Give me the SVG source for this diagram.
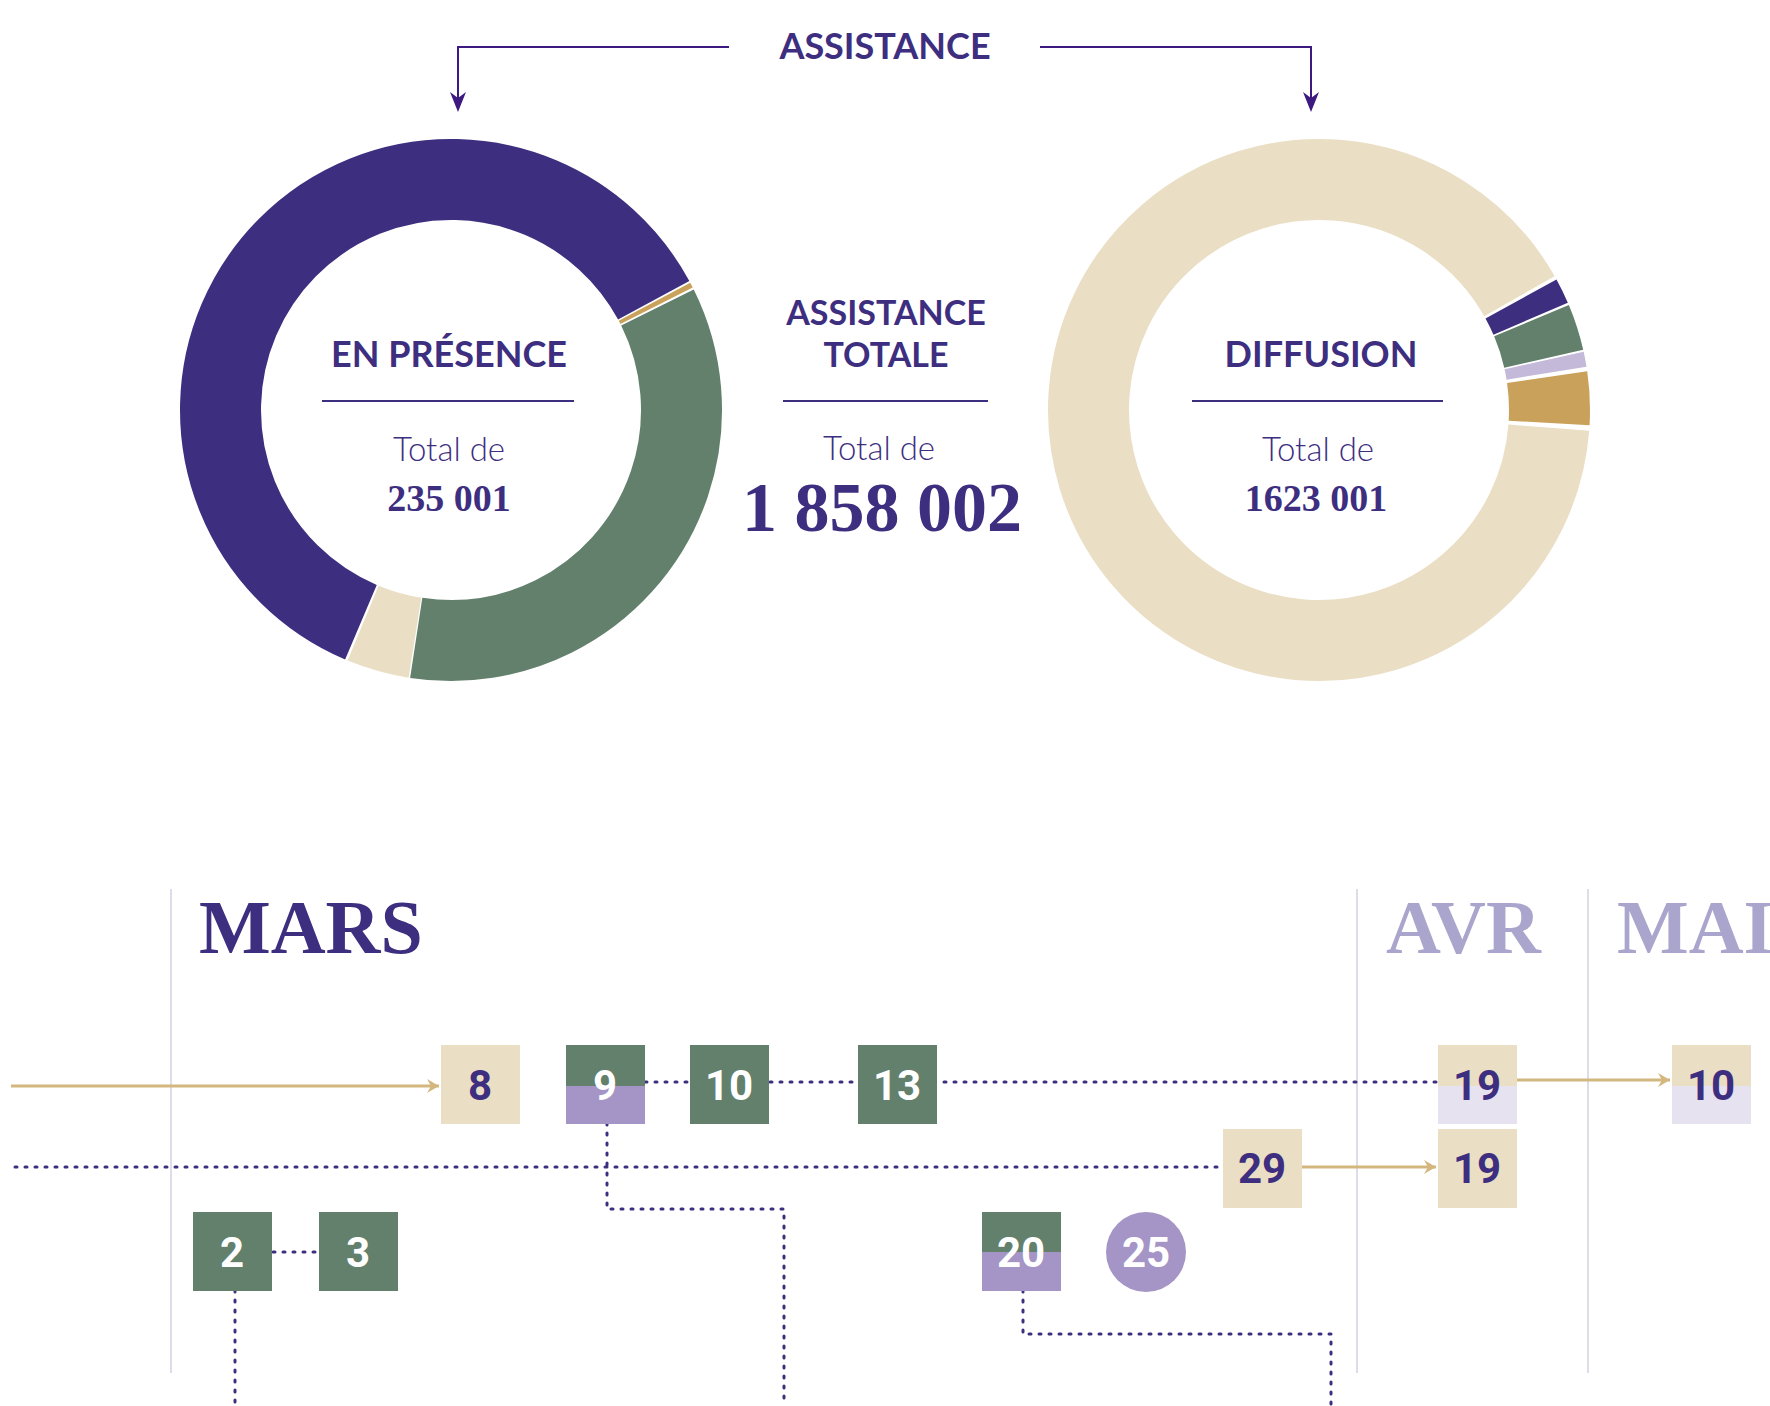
<svg xmlns="http://www.w3.org/2000/svg" width="1770" height="1406" viewBox="0 0 1770 1406">
<defs>
<style>
.h{font-family:Lato,"Open Sans",sans-serif;font-weight:700;fill:#3d2e7f;text-anchor:middle}
.t{font-family:Lato,"Open Sans",sans-serif;font-weight:300;fill:#3d2e7f;text-anchor:middle;font-size:33px}
.s{font-family:"Liberation Serif",serif;font-weight:700;fill:#3d2e7f;text-anchor:middle}
.n{font-family:Roboto,"Liberation Sans",sans-serif;font-weight:700;font-size:42px;text-anchor:middle}
.dot{fill:none;stroke:#3d2e7f;stroke-width:3;stroke-dasharray:2 8;stroke-linecap:round}
.gl{fill:none;stroke:#d4b77f;stroke-width:3}
.ring{fill:none;stroke-width:81}
.vl{stroke:#dcdcea;stroke-width:2}
</style>
<marker id="ga" markerWidth="14" markerHeight="14" refX="12" refY="7" orient="auto" markerUnits="userSpaceOnUse"><path d="M0,0 L12,7 L0,14 L4,7 Z" fill="#d4b77f"/></marker>
<marker id="pa" markerWidth="14" markerHeight="20" refX="7" refY="18" orient="auto" markerUnits="userSpaceOnUse"><path d="M0,0 L7,18 L14,0 L7,6 Z" fill="#3d1a7f" transform="rotate(-90 7 7) translate(0 0)"/></marker>
</defs>
<rect width="1770" height="1406" fill="#fff"/>
<g id="assistance">
<text class="h" x="885" y="59" font-size="36" fill="#3d1a7f">ASSISTANCE</text>
<path d="M729,47 H458 V100" fill="none" stroke="#3d1a7f" stroke-width="2"/>
<path d="M450,92 L458,112 L466,92 L458,98 Z" fill="#3d1a7f"/>
<path d="M1040,47 H1311 V100" fill="none" stroke="#3d1a7f" stroke-width="2"/>
<path d="M1303,92 L1311,112 L1319,92 L1311,98 Z" fill="#3d1a7f"/>
</g>
<g id="donut-presence">
<circle class="ring" cx="451" cy="410" r="230.5" stroke="#3d2e7f" stroke-dasharray="879 2000" transform="rotate(113 451 410)"/>
<circle class="ring" cx="451" cy="410" r="230.5" stroke="#c9a15a" stroke-dasharray="4.5 2000" transform="rotate(332 451 410)"/>
<circle class="ring" cx="451" cy="410" r="230.5" stroke="#62806c" stroke-dasharray="503 2000" transform="rotate(333.6 451 410)"/>
<circle class="ring" cx="451" cy="410" r="230.5" stroke="#eadec4" stroke-dasharray="54 2000" transform="rotate(99 451 410)"/>
<text class="h" x="449" y="367" font-size="36">EN PRÉSENCE</text>
<line x1="322" y1="401" x2="574" y2="401" stroke="#3d2e7f" stroke-width="2"/>
<text class="t" x="449" y="461">Total de</text>
<text class="s" x="449" y="511" font-size="38">235 001</text>
</g>
<g id="total">
<text class="h" x="886" y="325" font-size="34">ASSISTANCE</text>
<text class="h" x="886" y="367" font-size="34">TOTALE</text>
<line x1="783" y1="401" x2="988" y2="401" stroke="#3d2e7f" stroke-width="2"/>
<text class="t" x="879" y="460">Total de</text>
<text class="s" x="882" y="531" font-size="70">1 858 002</text>
</g>
<g id="donut-diffusion">
<circle class="ring" cx="1319" cy="410" r="230.5" stroke="#eadec4" stroke-dasharray="1311 2000" transform="rotate(4.4 1319 410)"/>
<circle class="ring" cx="1319" cy="410" r="230.5" stroke="#3d2e7f" stroke-dasharray="22 2000" transform="rotate(331.2 1319 410)"/>
<circle class="ring" cx="1319" cy="410" r="230.5" stroke="#62806c" stroke-dasharray="40 2000" transform="rotate(337.2 1319 410)"/>
<circle class="ring" cx="1319" cy="410" r="230.5" stroke="#c5b9d9" stroke-dasharray="13 2000" transform="rotate(347.6 1319 410)"/>
<circle class="ring" cx="1319" cy="410" r="230.5" stroke="#c9a15a" stroke-dasharray="46 2000" transform="rotate(351.8 1319 410)"/>
<text class="h" x="1321" y="367" font-size="36">DIFFUSION</text>
<line x1="1192" y1="401" x2="1443" y2="401" stroke="#3d2e7f" stroke-width="2"/>
<text class="t" x="1318" y="461">Total de</text>
<text class="s" x="1316" y="511" font-size="38">1623 001</text>
</g>
<g id="timeline-axes">
<line class="vl" x1="171" y1="889" x2="171" y2="1373"/>
<line class="vl" x1="1357" y1="889" x2="1357" y2="1373"/>
<line class="vl" x1="1588" y1="889" x2="1588" y2="1373"/>
<text class="s" x="199" y="953" font-size="76" text-anchor="start" style="text-anchor:start">MARS</text>
<text class="s" x="1386" y="953" font-size="76" fill="#aaa5cc" style="text-anchor:start;fill:#aaa5cc">AVR</text>
<text class="s" x="1617" y="953" font-size="76" style="text-anchor:start;fill:#aaa5cc">MAI</text>
</g>
<g id="connectors">
<line class="gl" x1="11" y1="1086" x2="439" y2="1086" marker-end="url(#ga)"/>
<line class="dot" x1="645" y1="1082" x2="690" y2="1082"/>
<line class="dot" x1="770" y1="1082" x2="858" y2="1082"/>
<line class="dot" x1="944" y1="1082" x2="1438" y2="1082"/>
<line class="gl" x1="1517" y1="1080" x2="1670" y2="1080" marker-end="url(#ga)"/>
<line class="dot" x1="15" y1="1167" x2="1223" y2="1167"/>
<line class="gl" x1="1302" y1="1167" x2="1436" y2="1167" marker-end="url(#ga)"/>
<line class="dot" x1="273" y1="1252" x2="319" y2="1252"/>
<path class="dot" d="M607,1123 V1209 H784 V1406"/>
<path class="dot" d="M235,1290 V1406"/>
<path class="dot" d="M1023,1290 V1334 H1331 V1406"/>
</g>
<g id="n8"><rect x="441" y="1045" width="79" height="79" fill="#eadec4"/><text class="n" x="480" y="1100" fill="#3d2e7f">8</text></g>
<g id="n9"><rect x="566" y="1045" width="79" height="79" fill="#62806c"/><rect x="566" y="1086" width="79" height="38" fill="#a594c6"/><text class="n" x="605" y="1100" fill="#fff">9</text></g>
<g id="n10"><rect x="690" y="1045" width="79" height="79" fill="#62806c"/><text class="n" x="729" y="1100" fill="#fff">10</text></g>
<g id="n13"><rect x="858" y="1045" width="79" height="79" fill="#62806c"/><text class="n" x="897" y="1100" fill="#fff">13</text></g>
<g id="n19a"><rect x="1438" y="1045" width="79" height="79" fill="#eadec4"/><rect x="1438" y="1086" width="79" height="38" fill="#e6e2f0"/><text class="n" x="1477" y="1100" fill="#3d2e7f">19</text></g>
<g id="n10b"><rect x="1672" y="1045" width="79" height="79" fill="#eadec4"/><rect x="1672" y="1086" width="79" height="38" fill="#e6e2f0"/><text class="n" x="1711" y="1100" fill="#3d2e7f">10</text></g>
<g id="n29"><rect x="1223" y="1129" width="79" height="79" fill="#eadec4"/><text class="n" x="1262" y="1183" fill="#3d2e7f">29</text></g>
<g id="n19b"><rect x="1438" y="1129" width="79" height="79" fill="#eadec4"/><text class="n" x="1477" y="1183" fill="#3d2e7f">19</text></g>
<g id="n2"><rect x="193" y="1212" width="79" height="79" fill="#62806c"/><text class="n" x="232" y="1267" fill="#fff">2</text></g>
<g id="n3"><rect x="319" y="1212" width="79" height="79" fill="#62806c"/><text class="n" x="358" y="1267" fill="#fff">3</text></g>
<g id="n20"><rect x="982" y="1212" width="79" height="79" fill="#62806c"/><rect x="982" y="1252" width="79" height="39" fill="#a594c6"/><text class="n" x="1021" y="1267" fill="#fff">20</text></g>
<g id="n25"><circle cx="1146" cy="1252" r="40" fill="#a594c6"/><text class="n" x="1146" y="1267" fill="#fff">25</text></g>
</svg>
